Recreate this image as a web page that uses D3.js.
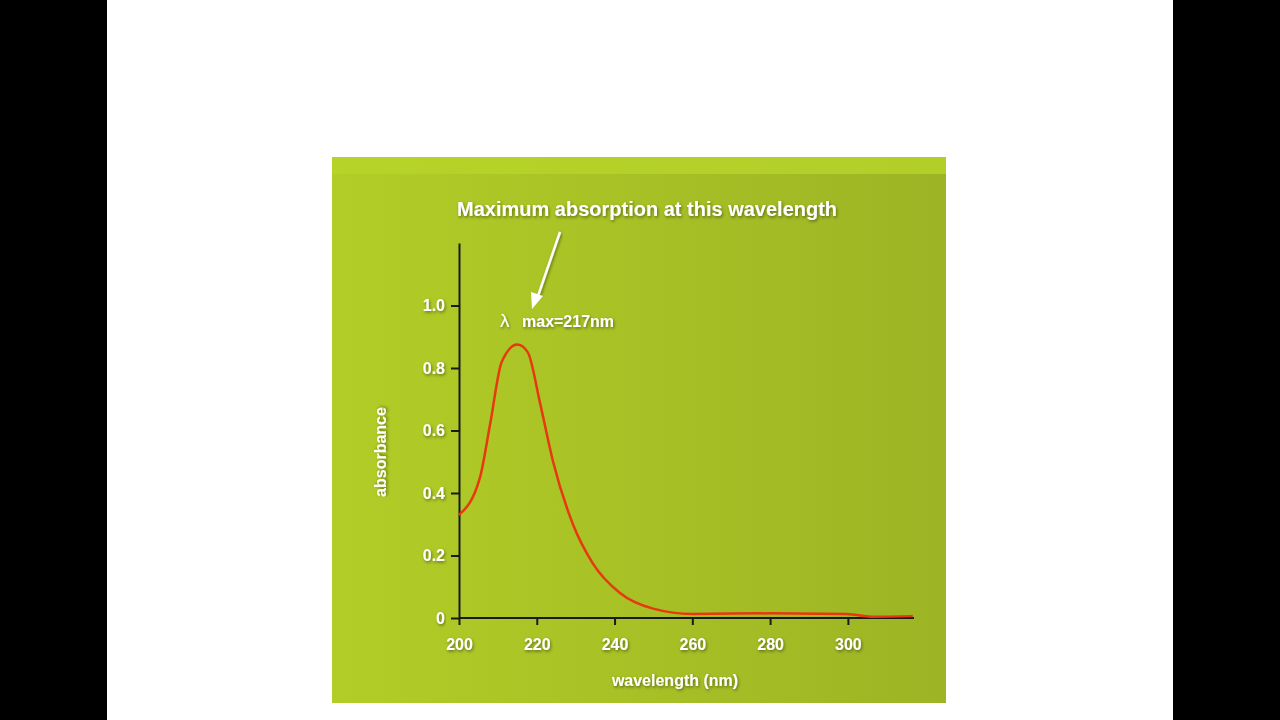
<!DOCTYPE html>
<html><head><meta charset="utf-8">
<script src="https://cdn.jsdelivr.net/npm/d3@7"></script>
<style>body{margin:0;background:#fff;overflow:hidden}</style>
</head><body>
<svg id="c" width="1280" height="720"></svg>
<script>
const wavelength = [200,205.4,208,211,215,217.7,220.8,224.2,229.3,234.4,241.4,249.9,260,280,299.7,306,316.7];
const absorbance = [0.33,0.45,0.62,0.82,0.875,0.85,0.69,0.50,0.30,0.175,0.08,0.03,0.013,0.015,0.013,0.004,0.006];
const xTicks = [200,220,240,260,280,300];
const yTicks = [0,0.2,0.4,0.6,0.8,1.0];
const yTickLabels = ["0","0.2","0.4","0.6","0.8","1.0"];

const svg = d3.select("#c");
const defs = svg.append("defs");
const g = defs.append("linearGradient").attr("id","bg");
g.append("stop").attr("offset","0%").attr("stop-color","#b2cd27");
g.append("stop").attr("offset","100%").attr("stop-color","#9db424");
const f = defs.append("filter").attr("id","sh").attr("x","-10%").attr("y","-30%").attr("width","120%").attr("height","160%");
f.append("feDropShadow").attr("dx",1).attr("dy",1.5).attr("stdDeviation",1.5).attr("flood-color","#000").attr("flood-opacity",0.45);

svg.append("rect").attr("x",0).attr("y",0).attr("width",107).attr("height",720).attr("fill","#000");
svg.append("rect").attr("x",1173).attr("y",0).attr("width",107).attr("height",720).attr("fill","#000");
svg.append("rect").attr("x",332).attr("y",157).attr("width",614).attr("height",546).attr("fill","url(#bg)");
svg.append("rect").attr("x",332).attr("y",157).attr("width",614).attr("height",17).attr("fill","#b8d42a").attr("opacity",0.8);

const x = d3.scaleLinear().domain([200,317]).range([459,914]);
const y = d3.scaleLinear().domain([0,1.2]).range([618,243]);

const font = "Liberation Sans, Arial, sans-serif";
const xa = svg.append("g").attr("transform","translate(0,618)")
  .call(d3.axisBottom(x).tickValues(xTicks).tickSize(7).tickSizeOuter(0).tickPadding(14));
const ya = svg.append("g").attr("transform","translate(459,0)")
  .call(d3.axisLeft(y).tickValues(yTicks).tickFormat((d,i)=>yTickLabels[i]).tickSize(8).tickSizeOuter(0).tickPadding(6));
[xa,ya].forEach(a=>{
  a.select(".domain").attr("stroke","#1a1a1a").attr("stroke-width",2);
  a.selectAll(".tick line").attr("stroke","#1a1a1a").attr("stroke-width",2);
  a.selectAll(".tick text").attr("fill","#fff").attr("font-family",font).attr("font-weight","bold").attr("font-size",16).attr("filter","url(#sh)");
});
xa.select(".domain").attr("d","M459,0H914");

svg.append("path").datum(wavelength.map((w,i)=>[w,absorbance[i]]))
  .attr("d",d3.line().x(d=>x(d[0])).y(d=>y(d[1])).curve(d3.curveMonotoneX))
  .attr("fill","none").attr("stroke","#e8380f").attr("stroke-width",2.5);

const txt=(t,xx,yy,s,extra)=>{const e=svg.append("text").attr("x",xx).attr("y",yy).text(t).attr("fill","#fff")
  .attr("font-family",font).attr("font-weight","bold").attr("font-size",s).attr("filter","url(#sh)");if(extra)extra(e);return e;};
txt("Maximum absorption at this wavelength",457,216,20);
txt("λ",500,327,19).attr("font-weight","normal");
txt("max=217nm",522,327,16);
txt("wavelength (nm)",675,686,16,e=>e.attr("text-anchor","middle"));
txt("absorbance",386,452,16,e=>e.attr("text-anchor","middle").attr("transform","rotate(-90,386,452)"));
svg.append("line").attr("x1",560).attr("y1",232).attr("x2",538).attr("y2",296).attr("stroke","#fff").attr("stroke-width",2.5).attr("filter","url(#sh)");
svg.append("path").attr("d","M532,309 L531,292 L543,296 Z").attr("fill","#fff");
</script></body></html>
